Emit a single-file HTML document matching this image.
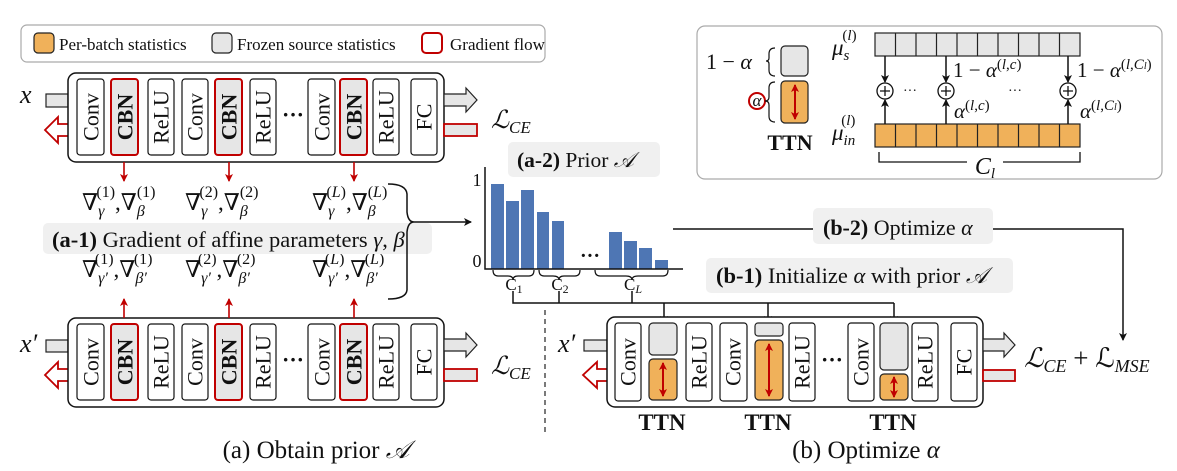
<!DOCTYPE html>
<html><head><meta charset="utf-8"><style>
html,body{margin:0;padding:0;background:#fff;}
svg{display:block;}
text{font-family:"Liberation Serif","DejaVu Serif",serif;fill:#111;}
.i{font-style:italic;}
</style></head><body>
<svg width="1177" height="471" viewBox="0 0 1177 471" xmlns="http://www.w3.org/2000/svg">
<defs>
<marker id="ak" markerWidth="8" markerHeight="8" refX="7" refY="4" orient="auto" markerUnits="userSpaceOnUse"><path d="M0,0 L8,4 L0,8 L2,4 z" fill="#111"/></marker>
<marker id="ar" markerWidth="8" markerHeight="8" refX="7" refY="4" orient="auto" markerUnits="userSpaceOnUse"><path d="M0,0 L8,4 L0,8 L2,4 z" fill="#c00000"/></marker>
<marker id="ar2" markerWidth="8" markerHeight="8" refX="7" refY="4" orient="auto-start-reverse" markerUnits="userSpaceOnUse"><path d="M0,0 L8,4 L0,8 L2,4 z" fill="#c00000"/></marker>
</defs>

<!-- Legend -->
<rect x="21" y="25" width="524" height="37" rx="6" fill="#fff" stroke="#aaa" stroke-width="1.2"/>
<rect x="34" y="33" width="20" height="20" rx="4" fill="#f0b15a" stroke="#222" stroke-width="1.2"/>
<text x="59" y="50" font-size="17">Per-batch statistics</text>
<rect x="212" y="33" width="20" height="20" rx="4" fill="#e6e6e6" stroke="#222" stroke-width="1.2"/>
<text x="237" y="50" font-size="17">Frozen source statistics</text>
<rect x="422" y="33" width="20" height="20" rx="4" fill="#fff" stroke="#c00000" stroke-width="2"/>
<text x="450" y="50" font-size="17">Gradient flow</text>

<!-- Top network -->
<text x="20" y="103" font-size="26" class="i">x</text>
<rect x="46" y="94" width="22" height="13" fill="#e6e6e6" stroke="#222" stroke-width="1.2"/>
<path d="M68,124 L58,124 L58,117 L45,130 L58,143 L58,136 L68,136" fill="#fff" stroke="#c00000" stroke-width="1.8"/>
<rect x="68" y="73" width="376" height="89" rx="8" fill="#fff" stroke="#111" stroke-width="1.5"/>
<g font-size="22">
<rect x="77" y="79" width="27" height="76" rx="3" fill="#fff" stroke="#111" stroke-width="1.2"/><text transform="translate(91,117) rotate(-90)" text-anchor="middle" dominant-baseline="central">Conv</text>
<rect x="111" y="79" width="27" height="76" rx="3" fill="#e6e6e6" stroke="#c00000" stroke-width="2"/><text transform="translate(125,117) rotate(-90)" text-anchor="middle" dominant-baseline="central" font-weight="bold">CBN</text>
<rect x="148" y="79" width="26" height="76" rx="3" fill="#fff" stroke="#111" stroke-width="1.2"/><text transform="translate(161,117) rotate(-90)" text-anchor="middle" dominant-baseline="central">ReLU</text>
<rect x="182" y="79" width="26" height="76" rx="3" fill="#fff" stroke="#111" stroke-width="1.2"/><text transform="translate(195,117) rotate(-90)" text-anchor="middle" dominant-baseline="central">Conv</text>
<rect x="215" y="79" width="27" height="76" rx="3" fill="#e6e6e6" stroke="#c00000" stroke-width="2"/><text transform="translate(229,117) rotate(-90)" text-anchor="middle" dominant-baseline="central" font-weight="bold">CBN</text>
<rect x="250" y="79" width="26" height="76" rx="3" fill="#fff" stroke="#111" stroke-width="1.2"/><text transform="translate(263,117) rotate(-90)" text-anchor="middle" dominant-baseline="central">ReLU</text>
<text x="293" y="122" text-anchor="middle" font-weight="bold">···</text>
<rect x="308" y="79" width="27" height="76" rx="3" fill="#fff" stroke="#111" stroke-width="1.2"/><text transform="translate(322,117) rotate(-90)" text-anchor="middle" dominant-baseline="central">Conv</text>
<rect x="340" y="79" width="27" height="76" rx="3" fill="#e6e6e6" stroke="#c00000" stroke-width="2"/><text transform="translate(354,117) rotate(-90)" text-anchor="middle" dominant-baseline="central" font-weight="bold">CBN</text>
<rect x="373" y="79" width="26" height="76" rx="3" fill="#fff" stroke="#111" stroke-width="1.2"/><text transform="translate(386,117) rotate(-90)" text-anchor="middle" dominant-baseline="central">ReLU</text>
<rect x="411" y="79" width="26" height="76" rx="3" fill="#fff" stroke="#111" stroke-width="1.2"/><text transform="translate(424,117) rotate(-90)" text-anchor="middle" dominant-baseline="central">FC</text>
</g>
<path d="M444,94 L466,94 L466,88 L477,100 L466,112 L466,106 L444,106 z" fill="#e6e6e6" stroke="#222" stroke-width="1.2"/>
<rect x="444" y="124" width="33" height="12" fill="#e6e6e6" stroke="#c00000" stroke-width="1.8"/>
<text x="491" y="128" font-size="25" class="i">ℒ<tspan font-size="17" dy="5">CE</tspan></text>
<g stroke="#c00000" stroke-width="1.6" marker-end="url(#ar)">
<line x1="124" y1="162" x2="124" y2="181"/><line x1="229" y1="162" x2="229" y2="181"/><line x1="354" y1="162" x2="354" y2="181"/>
</g>

<!-- gradient labels -->
<g font-size="23">
<text x="82" y="210">∇<tspan font-size="16" class="i" dy="6">γ</tspan><tspan font-size="16" dx="-8" dy="-19">(1)</tspan><tspan dy="13">,∇</tspan><tspan font-size="16" class="i" dy="6">β</tspan><tspan font-size="16" dx="-8" dy="-19">(1)</tspan></text>
<text x="185" y="210">∇<tspan font-size="16" class="i" dy="6">γ</tspan><tspan font-size="16" dx="-8" dy="-19">(2)</tspan><tspan dy="13">,∇</tspan><tspan font-size="16" class="i" dy="6">β</tspan><tspan font-size="16" dx="-8" dy="-19">(2)</tspan></text>
<text x="312" y="210">∇<tspan font-size="16" class="i" dy="6">γ</tspan><tspan font-size="16" dx="-8" dy="-19">(<tspan class="i">L</tspan>)</tspan><tspan dy="13">,∇</tspan><tspan font-size="16" class="i" dy="6">β</tspan><tspan font-size="16" dx="-8" dy="-19">(<tspan class="i">L</tspan>)</tspan></text>
<text x="82" y="277">∇<tspan font-size="16" class="i" dy="6">γ′</tspan><tspan font-size="16" dx="-13" dy="-19">(1)</tspan><tspan dy="13">,∇</tspan><tspan font-size="16" class="i" dy="6">β′</tspan><tspan font-size="16" dx="-13" dy="-19">(1)</tspan></text>
<text x="185" y="277">∇<tspan font-size="16" class="i" dy="6">γ′</tspan><tspan font-size="16" dx="-13" dy="-19">(2)</tspan><tspan dy="13">,∇</tspan><tspan font-size="16" class="i" dy="6">β′</tspan><tspan font-size="16" dx="-13" dy="-19">(2)</tspan></text>
<text x="312" y="277">∇<tspan font-size="16" class="i" dy="6">γ′</tspan><tspan font-size="16" dx="-13" dy="-19">(<tspan class="i">L</tspan>)</tspan><tspan dy="13">,∇</tspan><tspan font-size="16" class="i" dy="6">β′</tspan><tspan font-size="16" dx="-13" dy="-19">(<tspan class="i">L</tspan>)</tspan></text>
</g>
<rect x="43" y="223" width="389" height="31" rx="5" fill="#f0f0f0"/>
<text x="52" y="247" font-size="22.5"><tspan font-weight="bold">(a-1)</tspan> Gradient of affine parameters <tspan class="i">γ</tspan>, <tspan class="i">β</tspan></text>
<path d="M388,184 Q406,184 407,194 L407,212 Q408,222 414,222 Q408,222 407,232 L407,290 Q406,299 388,299" fill="none" stroke="#111" stroke-width="1.5"/>
<line x1="414" y1="222" x2="471" y2="222" stroke="#111" stroke-width="1.6" marker-end="url(#ak)"/>

<!-- Bottom left network -->
<text x="20" y="352" font-size="26" class="i">x′</text>
<rect x="46" y="340" width="22" height="12" fill="#e6e6e6" stroke="#222" stroke-width="1.2"/>
<path d="M68,369 L58,369 L58,362 L45,375 L58,388 L58,381 L68,381" fill="#fff" stroke="#c00000" stroke-width="1.8"/>
<rect x="68" y="318" width="376" height="89" rx="8" fill="#fff" stroke="#111" stroke-width="1.5"/>
<g font-size="22">
<rect x="77" y="324" width="27" height="76" rx="3" fill="#fff" stroke="#111" stroke-width="1.2"/><text transform="translate(91,362) rotate(-90)" text-anchor="middle" dominant-baseline="central">Conv</text>
<rect x="111" y="324" width="27" height="76" rx="3" fill="#e6e6e6" stroke="#c00000" stroke-width="2"/><text transform="translate(125,362) rotate(-90)" text-anchor="middle" dominant-baseline="central" font-weight="bold">CBN</text>
<rect x="148" y="324" width="26" height="76" rx="3" fill="#fff" stroke="#111" stroke-width="1.2"/><text transform="translate(161,362) rotate(-90)" text-anchor="middle" dominant-baseline="central">ReLU</text>
<rect x="182" y="324" width="26" height="76" rx="3" fill="#fff" stroke="#111" stroke-width="1.2"/><text transform="translate(195,362) rotate(-90)" text-anchor="middle" dominant-baseline="central">Conv</text>
<rect x="215" y="324" width="27" height="76" rx="3" fill="#e6e6e6" stroke="#c00000" stroke-width="2"/><text transform="translate(229,362) rotate(-90)" text-anchor="middle" dominant-baseline="central" font-weight="bold">CBN</text>
<rect x="250" y="324" width="26" height="76" rx="3" fill="#fff" stroke="#111" stroke-width="1.2"/><text transform="translate(263,362) rotate(-90)" text-anchor="middle" dominant-baseline="central">ReLU</text>
<text x="293" y="367" text-anchor="middle" font-weight="bold">···</text>
<rect x="308" y="324" width="27" height="76" rx="3" fill="#fff" stroke="#111" stroke-width="1.2"/><text transform="translate(322,362) rotate(-90)" text-anchor="middle" dominant-baseline="central">Conv</text>
<rect x="340" y="324" width="27" height="76" rx="3" fill="#e6e6e6" stroke="#c00000" stroke-width="2"/><text transform="translate(354,362) rotate(-90)" text-anchor="middle" dominant-baseline="central" font-weight="bold">CBN</text>
<rect x="373" y="324" width="26" height="76" rx="3" fill="#fff" stroke="#111" stroke-width="1.2"/><text transform="translate(386,362) rotate(-90)" text-anchor="middle" dominant-baseline="central">ReLU</text>
<rect x="411" y="324" width="26" height="76" rx="3" fill="#fff" stroke="#111" stroke-width="1.2"/><text transform="translate(424,362) rotate(-90)" text-anchor="middle" dominant-baseline="central">FC</text>
</g>
<path d="M444,339 L466,339 L466,333 L477,345 L466,357 L466,351 L444,351 z" fill="#e6e6e6" stroke="#222" stroke-width="1.2"/>
<rect x="444" y="369" width="33" height="12" fill="#e6e6e6" stroke="#c00000" stroke-width="1.8"/>
<text x="491" y="374" font-size="25" class="i">ℒ<tspan font-size="17" dy="5">CE</tspan></text>
<g stroke="#c00000" stroke-width="1.6" marker-end="url(#ar)">
<line x1="124" y1="318" x2="124" y2="299"/><line x1="229" y1="318" x2="229" y2="299"/><line x1="354" y1="318" x2="354" y2="299"/>
</g>
<text x="316" y="458" font-size="25" text-anchor="middle">(a) Obtain prior <tspan class="i">𝒜</tspan></text>

<line x1="545" y1="310" x2="545" y2="433" stroke="#333" stroke-width="1.3" stroke-dasharray="5,4"/>

<!-- Histogram -->
<rect x="508" y="142" width="152" height="35" rx="5" fill="#f0f0f0"/>
<text x="517" y="167" font-size="21.5"><tspan font-weight="bold">(a-2)</tspan> Prior <tspan class="i">𝒜</tspan></text>
<text x="477" y="186" font-size="18" text-anchor="middle">1</text>
<text x="477" y="267" font-size="18" text-anchor="middle">0</text>
<g fill="#4e76b4">
<rect x="491" y="184" width="13" height="85"/><rect x="506" y="201" width="13" height="68"/><rect x="521" y="190" width="13" height="79"/>
<rect x="537" y="212" width="12" height="57"/><rect x="552" y="221" width="12" height="48"/>
<rect x="609" y="232" width="13" height="37"/><rect x="624" y="241" width="13" height="28"/><rect x="639" y="248" width="13" height="21"/><rect x="655" y="260" width="13" height="9"/>
</g>
<text x="590" y="262" font-size="20" text-anchor="middle" font-weight="bold">···</text>
<path d="M485,167 L485,269 L683,269" fill="none" stroke="#111" stroke-width="1.5"/>
<g fill="none" stroke="#111" stroke-width="1.2">
<path d="M493,270 Q493,276 498,276 L508,276 Q513,276 513,280 Q513,276 518,276 L529,276 Q534,276 534,270"/>
<path d="M539,270 Q539,276 544,276 L553,276 Q559,276 559,280 Q559,276 564,276 L575,276 Q580,276 580,270"/>
<path d="M595,270 Q595,276 600,276 L626,276 Q632,276 632,280 Q632,276 638,276 L663,276 Q668,276 668,270"/>
</g>
<text x="514" y="290" font-size="17" text-anchor="middle">C<tspan font-size="12" dy="3">1</tspan></text>
<text x="560" y="290" font-size="17" text-anchor="middle">C<tspan font-size="12" dy="3">2</tspan></text>
<text x="633" y="290" font-size="17" text-anchor="middle">C<tspan font-size="12" dy="3" class="i">L</tspan></text>
<path d="M513,291 L513,303 L894,303 M559,291 L559,303 M632,291 L632,303" fill="none" stroke="#111" stroke-width="1.5"/>
<g stroke="#111" stroke-width="1.5" marker-end="url(#ak)">
<line x1="664" y1="303" x2="664" y2="323"/><line x1="768" y1="303" x2="768" y2="323"/><line x1="894" y1="303" x2="894" y2="323"/>
</g>

<!-- b-2 line -->
<path d="M673,229 L1123,229 L1123,340" fill="none" stroke="#111" stroke-width="1.5" marker-end="url(#ak)"/>
<rect x="813" y="208" width="180" height="36" rx="5" fill="#f0f0f0"/>
<text x="823" y="235" font-size="22"><tspan font-weight="bold">(b-2)</tspan> Optimize <tspan class="i">α</tspan></text>
<rect x="706" y="258" width="307" height="35" rx="5" fill="#f0f0f0"/>
<text x="716" y="283" font-size="22.5"><tspan font-weight="bold">(b-1)</tspan> Initialize <tspan class="i">α</tspan> with prior <tspan class="i">𝒜</tspan></text>

<!-- Bottom right network -->
<text x="558" y="352" font-size="26" class="i">x′</text>
<rect x="584" y="340" width="23" height="11" fill="#e6e6e6" stroke="#222" stroke-width="1.2"/>
<path d="M607,369 L597,369 L597,362 L583,375 L597,388 L597,381 L607,381" fill="#fff" stroke="#c00000" stroke-width="1.8"/>
<rect x="607" y="317" width="376" height="90" rx="8" fill="#fff" stroke="#111" stroke-width="1.5"/>
<g font-size="22">
<rect x="615" y="323" width="26" height="78" rx="3" fill="#fff" stroke="#111" stroke-width="1.2"/><text transform="translate(628,362) rotate(-90)" text-anchor="middle" dominant-baseline="central">Conv</text>
<rect x="649" y="323" width="28" height="32" rx="4" fill="#e6e6e6" stroke="#222" stroke-width="1.2"/>
<rect x="649" y="359" width="28" height="41" rx="4" fill="#f0b15a" stroke="#222" stroke-width="1.2"/>
<line x1="663" y1="363" x2="663" y2="396" stroke="#c00000" stroke-width="2" marker-start="url(#ar2)" marker-end="url(#ar2)"/>
<rect x="686" y="323" width="26" height="78" rx="3" fill="#fff" stroke="#111" stroke-width="1.2"/><text transform="translate(699,362) rotate(-90)" text-anchor="middle" dominant-baseline="central">ReLU</text>
<rect x="720" y="323" width="27" height="78" rx="3" fill="#fff" stroke="#111" stroke-width="1.2"/><text transform="translate(733,362) rotate(-90)" text-anchor="middle" dominant-baseline="central">Conv</text>
<rect x="755" y="323" width="28" height="13" rx="3" fill="#e6e6e6" stroke="#222" stroke-width="1.2"/>
<rect x="755" y="340" width="28" height="60" rx="4" fill="#f0b15a" stroke="#222" stroke-width="1.2"/>
<line x1="769" y1="344" x2="769" y2="396" stroke="#c00000" stroke-width="2" marker-start="url(#ar2)" marker-end="url(#ar2)"/>
<rect x="789" y="323" width="26" height="78" rx="3" fill="#fff" stroke="#111" stroke-width="1.2"/><text transform="translate(802,362) rotate(-90)" text-anchor="middle" dominant-baseline="central">ReLU</text>
<text x="832" y="367" text-anchor="middle" font-weight="bold">···</text>
<rect x="848" y="323" width="26" height="78" rx="3" fill="#fff" stroke="#111" stroke-width="1.2"/><text transform="translate(861,362) rotate(-90)" text-anchor="middle" dominant-baseline="central">Conv</text>
<rect x="880" y="323" width="28" height="47" rx="4" fill="#e6e6e6" stroke="#222" stroke-width="1.2"/>
<rect x="880" y="374" width="28" height="26" rx="4" fill="#f0b15a" stroke="#222" stroke-width="1.2"/>
<line x1="894" y1="377" x2="894" y2="397" stroke="#c00000" stroke-width="2" marker-start="url(#ar2)" marker-end="url(#ar2)"/>
<rect x="912" y="323" width="26" height="78" rx="3" fill="#fff" stroke="#111" stroke-width="1.2"/><text transform="translate(925,362) rotate(-90)" text-anchor="middle" dominant-baseline="central">ReLU</text>
<rect x="951" y="323" width="26" height="78" rx="3" fill="#fff" stroke="#111" stroke-width="1.2"/><text transform="translate(964,362) rotate(-90)" text-anchor="middle" dominant-baseline="central">FC</text>
</g>
<path d="M983,339 L1004,339 L1004,333 L1015,345 L1004,357 L1004,351 L983,351 z" fill="#e6e6e6" stroke="#222" stroke-width="1.2"/>
<rect x="983" y="370" width="32" height="11" fill="#e6e6e6" stroke="#c00000" stroke-width="1.8"/>
<text x="1024" y="367" font-size="27" class="i">ℒ<tspan font-size="18" dy="5">CE</tspan><tspan font-style="normal" dy="-5"> + ℒ</tspan><tspan font-size="18" dy="5">MSE</tspan></text>
<g font-size="23" font-weight="bold" text-anchor="middle">
<text x="662" y="430">TTN</text><text x="768" y="430">TTN</text><text x="893" y="430">TTN</text>
</g>
<text x="866" y="458" font-size="25" text-anchor="middle">(b) Optimize <tspan class="i">α</tspan></text>

<!-- Top-right panel -->
<rect x="697" y="26" width="465" height="153" rx="8" fill="#fff" stroke="#aaa" stroke-width="1.2"/>
<text x="706" y="69" font-size="22">1 − <tspan class="i">α</tspan></text>
<path d="M775,48 Q769,48 769,54 L769,58 Q769,61 766,61 Q769,61 769,64 L769,70 Q769,76 775,76" fill="none" stroke="#111" stroke-width="1.2"/>
<rect x="781" y="46" width="27" height="30" rx="4" fill="#e6e6e6" stroke="#222" stroke-width="1.2"/>
<circle cx="757" cy="101" r="8" fill="#fff" stroke="#c00000" stroke-width="2"/>
<text x="757" y="106" font-size="17" text-anchor="middle" class="i">α</text>
<path d="M775,82 Q769,82 769,88 L769,97 Q769,101 765,101 Q769,101 769,105 L769,116 Q769,122 775,122" fill="none" stroke="#111" stroke-width="1.2"/>
<rect x="781" y="81" width="27" height="42" rx="4" fill="#f0b15a" stroke="#222" stroke-width="1.2"/>
<line x1="795" y1="85" x2="795" y2="119" stroke="#c00000" stroke-width="2" marker-start="url(#ar2)" marker-end="url(#ar2)"/>
<text x="790" y="150" font-size="22" font-weight="bold" text-anchor="middle">TTN</text>

<text x="832" y="55" font-size="23" class="i">μ<tspan font-size="15" dy="5">s</tspan><tspan font-size="15" dx="-7" dy="-20" font-style="normal">(<tspan class="i">l</tspan>)</tspan></text>
<text x="832" y="140" font-size="23" class="i">μ<tspan font-size="15" dy="5">in</tspan><tspan font-size="15" dx="-14" dy="-20" font-style="normal">(<tspan class="i">l</tspan>)</tspan></text>
<g stroke="#222" stroke-width="1.2">
<rect x="875" y="33" width="205" height="23" fill="#e6e6e6"/>
<rect x="875" y="124" width="205" height="23" fill="#f0b15a"/>
<path d="M895.5,33 V56 M916,33 V56 M936.5,33 V56 M957,33 V56 M977.5,33 V56 M998,33 V56 M1018.5,33 V56 M1039,33 V56 M1059.5,33 V56 M895.5,124 V147 M916,124 V147 M936.5,124 V147 M957,124 V147 M977.5,124 V147 M998,124 V147 M1018.5,124 V147 M1039,124 V147 M1059.5,124 V147"/>
</g>
<g stroke="#111" stroke-width="1.5" marker-end="url(#ak)">
<line x1="885" y1="56" x2="885" y2="82"/><line x1="946" y1="56" x2="946" y2="82"/><line x1="1068" y1="56" x2="1068" y2="82"/>
<line x1="885" y1="124" x2="885" y2="100"/><line x1="946" y1="124" x2="946" y2="100"/><line x1="1068" y1="124" x2="1068" y2="100"/>
</g>
<g fill="#fff" stroke="#111" stroke-width="1.3">
<circle cx="885" cy="91" r="8"/><circle cx="946" cy="91" r="8"/><circle cx="1068" cy="91" r="8"/>
</g>
<g stroke="#111" stroke-width="1.3">
<path d="M880,91 H890 M885,86 V96 M941,91 H951 M946,86 V96 M1063,91 H1073 M1068,86 V96"/>
</g>
<text x="910" y="95" font-size="14" text-anchor="middle">···</text>
<text x="1015" y="95" font-size="14" text-anchor="middle">···</text>
<text x="953" y="77" font-size="21">1 − <tspan class="i">α</tspan><tspan font-size="15" dy="-8">(<tspan class="i">l</tspan>,<tspan class="i">c</tspan>)</tspan></text>
<text x="1077" y="77" font-size="21">1 − <tspan class="i">α</tspan><tspan font-size="15" dy="-8">(<tspan class="i">l</tspan>,<tspan class="i">C<tspan font-size="10">l</tspan></tspan>)</tspan></text>
<text x="954" y="118" font-size="21" class="i">α<tspan font-size="15" dy="-8" font-style="normal">(<tspan class="i">l</tspan>,<tspan class="i">c</tspan>)</tspan></text>
<text x="1080" y="118" font-size="21" class="i">α<tspan font-size="15" dy="-8" font-style="normal">(<tspan class="i">l</tspan>,<tspan class="i">C<tspan font-size="10">l</tspan></tspan>)</tspan></text>
<path d="M879,152 L879,162 L967,162 M1003,162 L1080,162 L1080,152" fill="none" stroke="#111" stroke-width="1.3"/>
<text x="985" y="174" font-size="24" text-anchor="middle" class="i">C<tspan font-size="15" dy="4">l</tspan></text>
</svg>
</body></html>
